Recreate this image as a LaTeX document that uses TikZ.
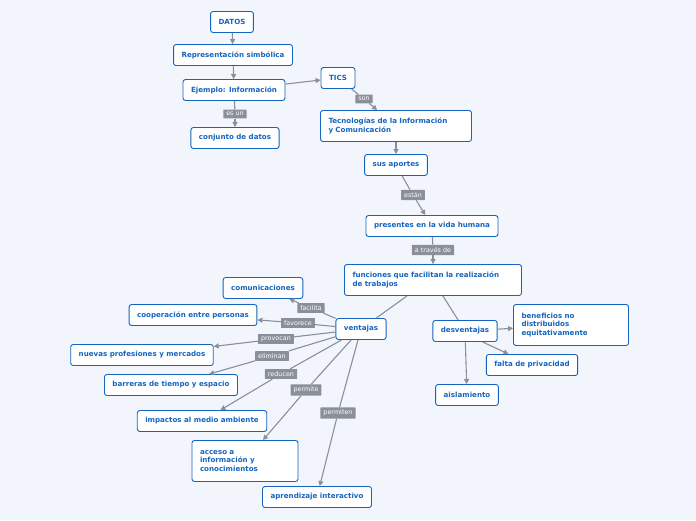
\documentclass[tikz,border=0pt]{standalone}
\usepackage{fontspec}
\setmainfont{DejaVu Sans}
\usetikzlibrary{arrows.meta}
\definecolor{bg}{HTML}{F2F5FC}
\definecolor{tb}{HTML}{1565C0}
\definecolor{ln}{HTML}{8A8F99}
\tikzset{
 box/.style={draw=tb,fill=white,rounded corners=2.5pt,line width=0.9pt,font=\fontsize{7.1}{8.4}\selectfont\bfseries,text=tb,inner xsep=8pt,minimum height=21pt,align=left},
 lab/.style={fill=ln,text=white,font=\fontsize{6.4}{7}\selectfont,inner xsep=3pt,inner ysep=2.5pt,rounded corners=0.5pt},
 con/.style={draw=ln,line width=1.1pt},
 arr/.style={con,-{Triangle[length=5pt,width=5pt]}}
}
\begin{document}
\begin{tikzpicture}[x=1pt,y=-1pt]
\fill[bg] (0,0) rectangle (696,520);
\useasboundingbox (0,0) rectangle (696,520);
\node[box] (datos) at (232,22) {DATOS};
\node[box] (rep) at (233,55) {Representación simbólica};
\node[box] (ej) at (234,90) {Ejemplo: Información};
\node[box] (conj) at (235,138) {conjunto de datos};
\node[box] (tics) at (338,78) {TICS};
\node[box,text width=135pt,minimum height=31pt] (tec) at (396,126) {Tecnologías de la Información\\y Comunicación};
\node[box] (sus) at (396,165) {sus aportes};
\node[box] (pres) at (432,226) {presentes en la vida humana};
\node[box,text width=161pt,minimum height=31pt] (fun) at (433,280) {funciones que facilitan la realización\\de trabajos};
\node[box] (ven) at (361,329) {ventajas};
\node[box] (des) at (465,331) {desventajas};
\node[box,text width=99pt,minimum height=41pt] (ben) at (571,325) {beneficios no\\distribuidos\\equitativamente};
\node[box] (fal) at (532,365) {falta de privacidad};
\node[box] (ais) at (467,395) {aislamiento};
\node[box] (com) at (263,288) {comunicaciones};
\node[box] (coo) at (193,315) {cooperación entre personas};
\node[box] (nue) at (142,355) {nuevas profesiones y mercados};
\node[box] (bar) at (171,385) {barreras de tiempo y espacio};
\node[box] (imp) at (202,421) {impactos al medio ambiente};
\node[box,text width=90pt,minimum height=41pt] (acc) at (245,461) {acceso a\\información y\\conocimientos};
\node[box] (apr) at (317,497) {aprendizaje interactivo};

\node[lab] (l1) at (235,114) {es un};
\node[lab] (l2) at (364,99) {son};
\node[lab] (l3) at (413,195) {están};
\node[lab] (l4) at (433,250) {a través de};
\node[lab] (l5) at (311,308) {facilita};
\node[lab] (l6) at (298,323) {favorece};
\node[lab] (l7) at (276,339) {provocan};
\node[lab] (l8) at (272,356) {eliminan};
\node[lab] (l9) at (281,374) {reducen};
\node[lab] (l10) at (306,390) {permite};
\node[lab] (l11) at (338,413) {permiten};

\draw[arr] (datos) -- (rep);
\draw[arr] (rep) -- (ej);
\draw[arr] (ej) -- (tics);
\draw[con] (ej) -- (l1); \draw[arr] (l1) -- (conj);
\draw[con] (tics) -- (l2); \draw[arr] (l2) -- (tec);
\draw[arr] (tec) -- (sus);
\draw[con] (sus) -- (l3); \draw[arr] (l3) -- (pres);
\draw[con] (pres) -- (l4); \draw[arr] (l4) -- (fun);
\draw[con] (fun.south west)++(63,0) -- (ven);
\draw[con] (fun.south east)++(-79,0) -- (des);
\draw[arr] (des) -- (ben);
\draw[arr] (des.south east)++(-15,0) -- (fal);
\draw[arr] (des) -- (ais);
\draw[con] (ven) -- (l5); \draw[arr] (l5) -- (com);
\draw[con] (ven) -- (l6); \draw[arr] (l6) -- (coo);
\draw[con] (ven) -- (l7); \draw[arr] (l7) -- (nue);
\draw[con] (ven) -- (l8); \draw[arr] (l8) -- (bar);
\draw[con] (ven) -- (l9); \draw[arr] (l9) -- (imp);
\draw[con] (ven) -- (l10); \draw[arr] (l10) -- (acc);
\draw[con] (ven) -- (l11); \draw[arr] (l11) -- (apr);
\end{tikzpicture}
\end{document}
